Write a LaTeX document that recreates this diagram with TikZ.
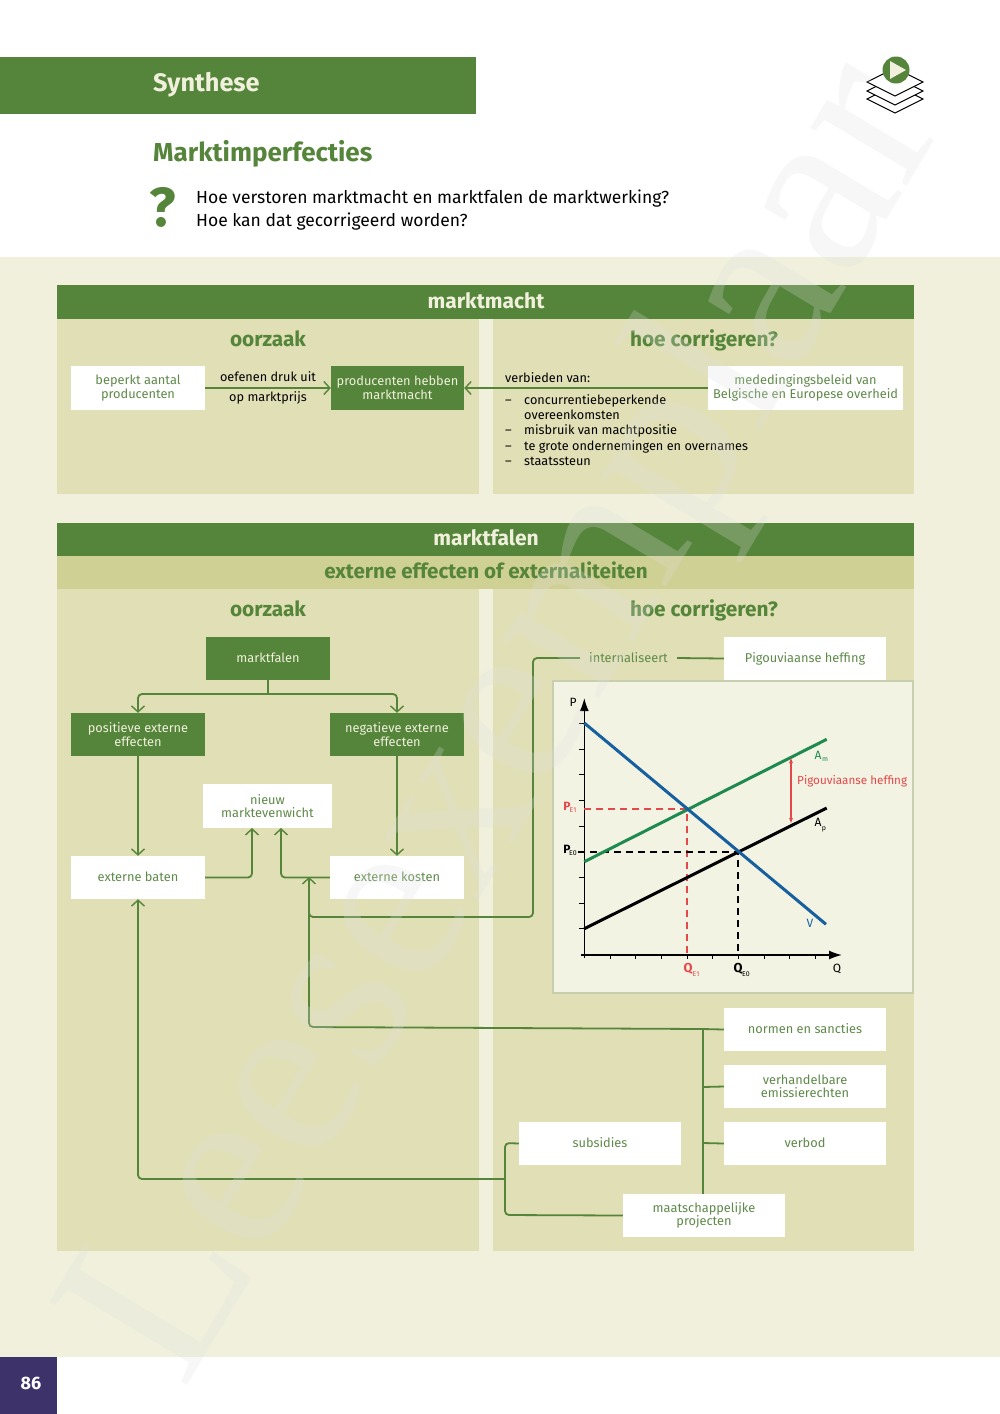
\documentclass[tikz,border=0pt]{standalone}
\usepackage{fontspec}
\setmainfont{Fira Sans}
\newfontfamily\wmfont{Liberation Serif}
\usetikzlibrary{arrows.meta}
\definecolor{gr}{HTML}{55853A}
\definecolor{grt}{HTML}{5F8A4A}
\definecolor{cream}{HTML}{F0F0DC}
\definecolor{panel}{HTML}{E0DFB5}
\definecolor{sub}{HTML}{CFD093}
\definecolor{plot}{HTML}{F3F3E3}
\definecolor{plotb}{HTML}{C8CFAE}
\definecolor{navy}{HTML}{3D3269}
\definecolor{cblue}{HTML}{17609F}
\definecolor{cgreen}{HTML}{1E8A4F}
\definecolor{cred}{HTML}{E5484A}
\tikzset{
 x=1pt,y=-1pt,
 bar/.style={fill=gr,draw=none},
 wbox/.style={fill=white,draw=none,text=grt,align=center,inner sep=0pt,font=\fontsize{12.8}{13.5}\selectfont},
 gbox/.style={fill=gr,draw=none,text=cream,align=center,inner sep=0pt,font=\fontsize{12.8}{13.5}\selectfont},
 one/.style={text depth=2.5pt},
 head/.style={text=cream,font=\fontsize{21}{23}\bfseries\selectfont,inner sep=0pt},
 ghead/.style={text=gr,font=\fontsize{20.8}{23}\bfseries\selectfont,inner sep=0pt},
 lab/.style={text=black,font=\fontsize{12.7}{15}\selectfont,inner sep=0pt,anchor=base},
 lst/.style={lab,anchor=base west},
 conn/.style={draw=gr,line width=1.8pt,rounded corners=4pt},
 arr/.style={conn,-{Straight Barb[length=6pt,width=13pt,line width=1.4pt]}},
 plab/.style={font=\fontsize{12}{14}\selectfont,inner sep=0pt},
 psub/.style={font=\fontsize{7}{8}\selectfont,inner sep=0pt},
 tick/.style={line width=.8pt,draw=black},
}
\begin{document}
\begin{tikzpicture}
\useasboundingbox (0,0) rectangle (1000,1414);
\fill[white] (0,0) rectangle (1000,1414);
\fill[cream] (0,257) rectangle (1000,1357);
% top
\fill[bar] (0,57) rectangle (476,114);
\node[anchor=west,text=cream,font=\fontsize{25.3}{27}\bfseries\selectfont,inner sep=0pt] (syn) at (153,85) {Synthese};
\node[anchor=west,text=gr,font=\fontsize{26}{28}\bfseries\selectfont,inner sep=0pt] (tit) at (153,154) {Marktimperfecties};
\node[text=gr,font=\fontsize{55}{55}\bfseries\selectfont,inner sep=0pt] (qm) at (163,207) {?};
\node[anchor=west,font=\fontsize{17.5}{20}\selectfont,inner sep=0pt] (q1) at (196,199) {Hoe verstoren marktmacht en marktfalen de marktwerking?};
\node[anchor=west,font=\fontsize{17.5}{20}\selectfont,inner sep=0pt] (q2) at (196,222) {Hoe kan dat gecorrigeerd worden?};
% icon
\foreach \c in {99,91,82}{\draw[fill=white,line width=1pt] (867,\c) -- (895,\c-14) -- (923,\c) -- (895,\c+14) -- cycle;}
\fill[gr] (896,70) circle (13.5);
\fill[cream] (890,61) -- (906,70) -- (890,79) -- cycle;
% marktmacht
\fill[panel] (57,319) rectangle (479,494);
\fill[panel] (493,319) rectangle (914,494);
\fill[bar] (57,285) rectangle (914,319);
\node[head] (h1) at (486,301) {marktmacht};
\node[ghead] (o1) at (268,339) {oorzaak};
\node[ghead] (c1) at (704,340) {hoe corrigeren?};
\node[wbox,minimum width=134,minimum height=44] (bep) at (138,388) {beperkt aantal\\producenten};
\node[gbox,minimum width=133,minimum height=44] (pro) at (397.5,388) {producenten hebben\\marktmacht};
\node[wbox,minimum width=195,minimum height=44] (med) at (805.5,388) {mededingingsbeleid van\\Belgische en Europese overheid};
\draw[arr] (bep.east) -- (pro.west);
\draw[arr] (med.west) -- (pro.east);
\node[lab] (l1) at (268,381.5) {oefenen druk uit};
\node[lab] (l2) at (268,401) {op marktprijs};
\node[lst] (l3) at (505,382.5) {verbieden van:};
\node[lst] (d1) at (505,404.5) {–};
\node[lst] (t1) at (524,404.5) {concurrentiebeperkende};
\node[lst] (t1b) at (524,419.5) {overeenkomsten};
\node[lst] (d2) at (505,434.5) {–};
\node[lst] (t2) at (524,434.5) {misbruik van machtpositie};
\node[lst] (d3) at (505,450) {–};
\node[lst] (t3) at (524,450) {te grote ondernemingen en overnames};
\node[lst] (d4) at (505,465) {–};
\node[lst] (t4) at (524,465) {staatssteun};
% marktfalen
\fill[panel] (57,589) rectangle (479,1251);
\fill[panel] (493,589) rectangle (914,1251);
\fill[bar] (57,523) rectangle (914,556);
\fill[sub] (57,556) rectangle (914,589);
\node[head] (h2) at (486,538) {marktfalen};
\node[text=gr,font=\fontsize{20.6}{22}\bfseries\selectfont,inner sep=0pt] (h3) at (486,570.5) {externe effecten of externaliteiten};
\node[ghead] (o2) at (268,609) {oorzaak};
\node[ghead] (c2) at (704,610) {hoe corrigeren?};
\node[gbox,one,minimum width=124,minimum height=43] (mf) at (268,658.5) {marktfalen};
\node[gbox,minimum width=134,minimum height=43] (pos) at (138,734.5) {positieve externe\\effecten};
\node[gbox,minimum width=134,minimum height=43] (neg) at (397,734.5) {negatieve externe\\effecten};
\node[wbox,minimum width=129,minimum height=44] (nw) at (267.5,806) {nieuw\\marktevenwicht};
\node[wbox,one,minimum width=134,minimum height=43] (ba) at (138,877.5) {externe baten};
\node[wbox,one,minimum width=134,minimum height=43] (ko) at (397,877.5) {externe kosten};
\node[wbox,one,minimum width=162,minimum height=43] (pg) at (805,658.5) {Pigouviaanse heffing};
\node[wbox,one,minimum width=162,minimum height=43] (no) at (805,1029.5) {normen en sancties};
\node[wbox,minimum width=162,minimum height=43] (ve) at (805,1086.5) {verhandelbare\\emissierechten};
\node[wbox,one,minimum width=162,minimum height=43] (vb) at (805,1143.5) {verbod};
\node[wbox,one,minimum width=162,minimum height=43] (su) at (600,1143.5) {subsidies};
\node[wbox,minimum width=162,minimum height=43] (ma) at (704,1215.5) {maatschappelijke\\projecten};
\node[inner ysep=0pt,inner xsep=9pt,text=grt,text depth=2pt,font=\fontsize{12.8}{15}\selectfont] (il) at (628.5,658) {internaliseert};
\coordinate (split) at (268,694);
\coordinate (nwL) at (252,828);
\coordinate (nwR) at (281,828);
\coordinate (hit) at (309,877);
\coordinate (c1a) at (533,658);
\coordinate (c1b) at (533,917);
\coordinate (c1c) at (309,917);
\coordinate (c2a) at (703,1029);
\coordinate (c2b) at (309,1027);
\coordinate (j1) at (505,1179);
\coordinate (j2) at (138,1179);
\coordinate (j3) at (703,1087);
\coordinate (j4) at (703,1143);
\coordinate (j5) at (505,1143);
\coordinate (j6) at (505,1215);
\draw[conn] (mf.south) -- (split);
\draw[arr] (split) -| (pos.north);
\draw[arr] (split) -| (neg.north);
\draw[arr] (pos.south) -- (ba.north);
\draw[arr] (neg.south) -- (ko.north);
\draw[arr] (ba.east) -| (nwL);
\draw[arr] (ko.west) -| (nwR);
\draw[conn] (pg.west) -- (il.east);
\draw[conn] (il.west) -- (c1a) -- (c1b) -- (c1c) -- (hit);
\draw[arr] (no.west) -- (c2a) -- (c2b) -- (hit);
\draw[conn] (c2a) -- (ma.north -| c2a);
\draw[conn] (j3) -- (ve.west);
\draw[conn] (j4) -- (vb.west);
\draw[conn] (su.west) -- (j5) -- (j6) -- (ma.west);
\draw[arr] (j1) -- (j2) -- (ba.south);
% plot
\draw[fill=plot,draw=plotb,line width=2pt] (553,681) rectangle (913,993);
\foreach \y in {723.3,749,774.7,800.3,826,852,877.7,903.3,928.7}{\draw[tick] (579,\y) -- (584.3,\y);}
\foreach \x in {610,635.7,661.3,687,712.7,738.3,764,789.7,815.3}{\draw[tick] (\x,955) -- (\x,959);}
\draw[line width=1.5pt,-{Latex[length=13pt,width=9pt]}] (584.3,958) -- (584.3,698);
\draw[line width=1.5pt,-{Latex[length=13pt,width=9pt]}] (581,955) -- (842,955);
\draw[cred,line width=1.6pt,dash pattern=on 7pt off 5pt] (584.3,809) -- (687,809) -- (687,955);
\draw[black,line width=1.6pt,dash pattern=on 7pt off 5pt] (578,852) -- (738,852) -- (738,955);
\draw[cgreen,line width=3pt] (584.3,861.7) -- (826.7,739.3);
\draw[black,line width=3pt] (584.3,928.7) -- (826.7,808);
\draw[cblue,line width=3pt] (584.3,723) -- (826,924.3);
\draw[cred,line width=1.5pt,{Latex[length=6pt,width=4pt]}-{Latex[length=6pt,width=4pt]}] (791,757) -- (791,824);
\node[plab,anchor=west,text=cred,font=\fontsize{11.7}{14}\selectfont] (pl) at (797,781) {Pigouviaanse heffing};
\node[plab,text=black] (lp) at (573,702) {P};
\node[plab,text=black] (lq) at (837,969) {Q};
\node[plab,text=cblue] (lv) at (810,923) {V};
\node[plab,text=cgreen] (la) at (818,755) {A};
\node[psub,text=cgreen] (lam) at (825,760) {m};
\node[plab,text=black] (lb) at (818,822) {A};
\node[psub,text=black] (lbp) at (824,829) {p};
\node[plab,text=cred,font=\fontsize{12}{14}\bfseries\selectfont] (pe1) at (567,806) {P};
\node[psub,text=cred] (pe1s) at (573,810) {E1};
\node[plab,text=black,font=\fontsize{12}{14}\bfseries\selectfont] (pe0) at (567,849) {P};
\node[psub,text=black] (pe0s) at (573,853) {E0};
\node[plab,text=cred,font=\fontsize{13}{14}\bfseries\selectfont] (qe1) at (688,969) {Q};
\node[psub,text=cred] (qe1s) at (696,974) {E1};
\node[plab,text=black,font=\fontsize{13}{14}\bfseries\selectfont] (qe0) at (738,969) {Q};
\node[psub,text=black] (qe0s) at (746,974) {E0};
% page number
\fill[navy] (0,1357) rectangle (57,1414);
\node[text=white,font=\fontsize{18}{20}\bfseries\selectfont,inner sep=0pt] (pn) at (31,1383) {86};
% watermark
\node[anchor=base west,rotate=59,inner sep=0pt,text=black!12,opacity=.24,font=\wmfont\fontsize{245}{245}\selectfont] (wm) at (183,1392) {Leesexemplaar};
\end{tikzpicture}
\end{document}
